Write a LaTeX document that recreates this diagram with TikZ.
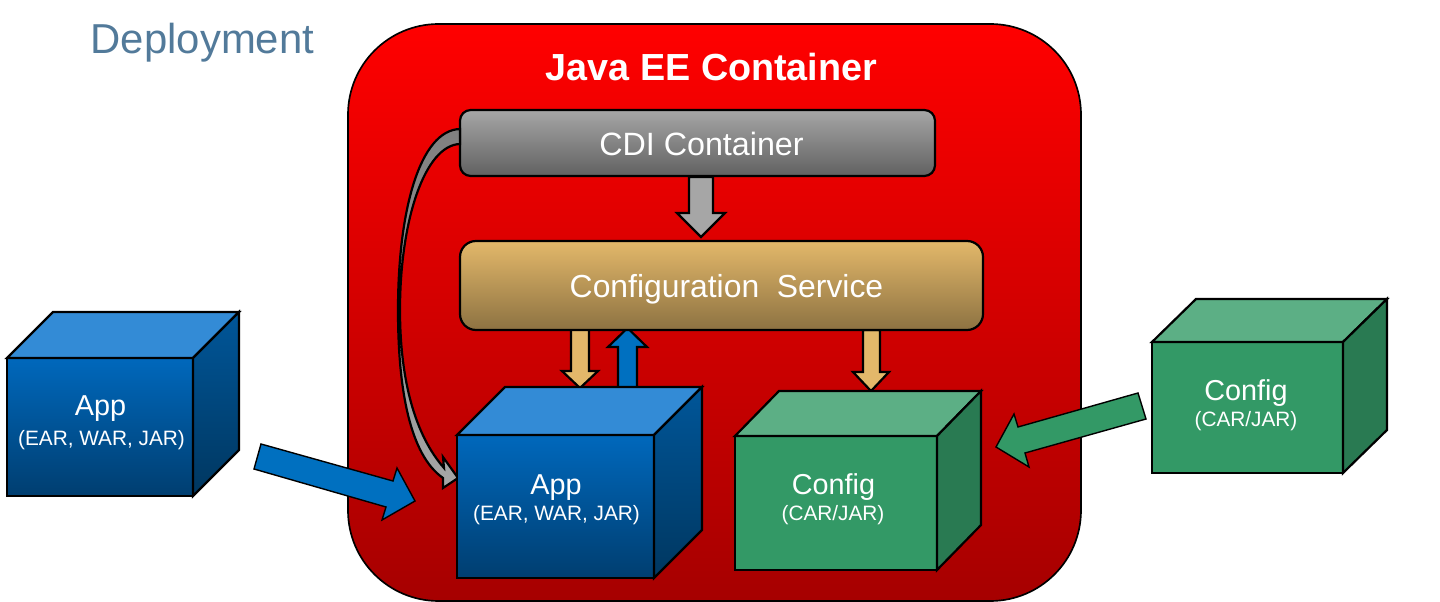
\documentclass[tikz,border=0pt]{standalone}
\usepackage{fontspec}
\setmainfont{Liberation Sans}
\newcommand{\fs}[1]{\fontsize{#1}{#1}\selectfont}
\definecolor{bluetop}{HTML}{338BD6}
\definecolor{bluefronta}{HTML}{0068BC}
\definecolor{bluefrontb}{HTML}{003E70}
\definecolor{bluesidea}{HTML}{005699}
\definecolor{bluesideb}{HTML}{003760}
\definecolor{bluearrow}{HTML}{0070C0}
\definecolor{greenfront}{HTML}{339966}
\definecolor{greentop}{HTML}{5CAF85}
\definecolor{greenside}{HTML}{297A52}
\definecolor{tan}{HTML}{E3B86A}
\definecolor{greyarrow}{HTML}{A6A6A6}
\definecolor{titlecol}{HTML}{527A9A}
\tikzset{
  x=0.75pt,y=-0.75pt,
  line join=miter,
  outl/.style={draw=black,line width=1.65pt},
  thinl/.style={draw=black,line width=1.05pt},
  contl/.style={draw=black,line width=1.25pt},
  label/.style={text=white,align=center,inner sep=0pt},
  blockarrow/.style={outl},
  bigtxt/.style={label,font=\fs{24.2}},
  cubetxt/.style={label,font=\fs{21.6}},
  subtxt/.style={label,font=\fs{15.6}},
}
\newcommand{\cube}[9]{% x1 x2 y1 y2 depth-x depth-y front-style top-colour side-style
  \path[outl,#7] (#1,#3) rectangle (#2,#4);
  \path[outl,fill=#8] (#1,#3) -- ++(#5,-#6) -- ++({#2-#1},0) -- (#2,#3) -- cycle;
  \path[outl,#9] (#2,#3) -- ++(#5,-#6) -- ++(0,{#4-#3}) -- (#2,#4) -- cycle;
}
\begin{document}
\begin{tikzpicture}
\useasboundingbox (0,0) rectangle (1440,602);
\node[anchor=base west,inner sep=0pt,text=titlecol,font=\fs{31.4}] (title) at (90.5,54) {Deployment};

\path[contl,top color=red,bottom color=red!65!black,rounded corners=68pt] (348,24) rectangle (1081,601);
\node[label,anchor=base,font=\bfseries\fs{28.3}] (jee) at (711.5,81) {Java EE Container};

% outer blue arrow
\path[thinl,fill=bluearrow] (261,444)--(254,469)--(386,507)--(382,520)--(415,501)--(397,468)--(393,481)--cycle;
% outer green arrow
\path[thinl,fill=greenfront] (1138,393)--(1146,419)--(1025,453)--(1029,467)--(996,447)--(1014,414)--(1018,427)--cycle;

% arrows between blocks
\path[blockarrow,fill=greyarrow] (689,177)--(713,177)--(713,213)--(725,213)--(701,237)--(677,213)--(689,213)--cycle;
\path[blockarrow,fill=tan] (571,329)--(589,329)--(589,371)--(598,371)--(580,388)--(562,371)--(571,371)--cycle;
\path[blockarrow,fill=bluearrow] (618,388)--(618,347)--(608,347)--(627.5,328)--(647,347)--(637,347)--(637,388)--cycle;
\path[blockarrow,fill=tan] (863,330)--(880,330)--(880,372)--(889,372)--(871,391)--(853,372)--(863,372)--cycle;

% CDI and configuration service
\path[outl,top color=greyarrow,bottom color=black!62,rounded corners=8pt] (460,110) rectangle (935,176);
\node[bigtxt,anchor=base] (cdi) at (701.5,156) {CDI Container};
\path[outl,top color=tan,bottom color=tan!62!black,rounded corners=12pt] (460,241) rectangle (983,330);
\node[label,anchor=base,font=\fs{23.9}] (cfg) at (726.5,298) {Configuration\ \ Service};

% curved arrow
\path[outl,top color=black!50,bottom color=greyarrow] (460,129) .. controls (420,130) and (398,210) .. (398,310)
  .. controls (398,390) and (410,455) .. (443,478) -- (443,488) -- (458,478) -- (443,457) -- (444,468)
  .. controls (415,435) and (400,380) .. (400,310) .. controls (400,220) and (425,145) .. (460,144) -- cycle;

% cubes
\cube{7}{193}{358}{496}{46}{46}{top color=bluefronta,bottom color=bluefrontb}{bluetop}{top color=bluesidea,bottom color=bluesideb}
\node[cubetxt,anchor=base] (app1) at (100.5,416) {App};
\node[subtxt,anchor=base] (app1s) at (101.5,445.5) {(EAR, WAR, JAR)};

\cube{457}{654}{435}{578}{48}{48}{top color=bluefronta,bottom color=bluefrontb}{bluetop}{top color=bluesidea,bottom color=bluesideb}
\node[cubetxt,anchor=base] (app2) at (556,494) {App};
\node[subtxt,anchor=base] (app2s) at (556.5,520.5) {(EAR, WAR, JAR)};

\cube{735}{937}{436}{570}{44}{45}{fill=greenfront}{greentop}{fill=greenside}
\node[cubetxt,anchor=base] (cfg2) at (833.5,494) {Config};
\node[subtxt,anchor=base] (cfg2s) at (833,520.5) {(CAR/JAR)};

\cube{1152}{1343}{342}{473}{44}{43}{fill=greenfront}{greentop}{fill=greenside}
\node[cubetxt,anchor=base] (cfg3) at (1246,400.5) {Config};
\node[subtxt,anchor=base] (cfg3s) at (1246,426.5) {(CAR/JAR)};
\end{tikzpicture}
\end{document}
